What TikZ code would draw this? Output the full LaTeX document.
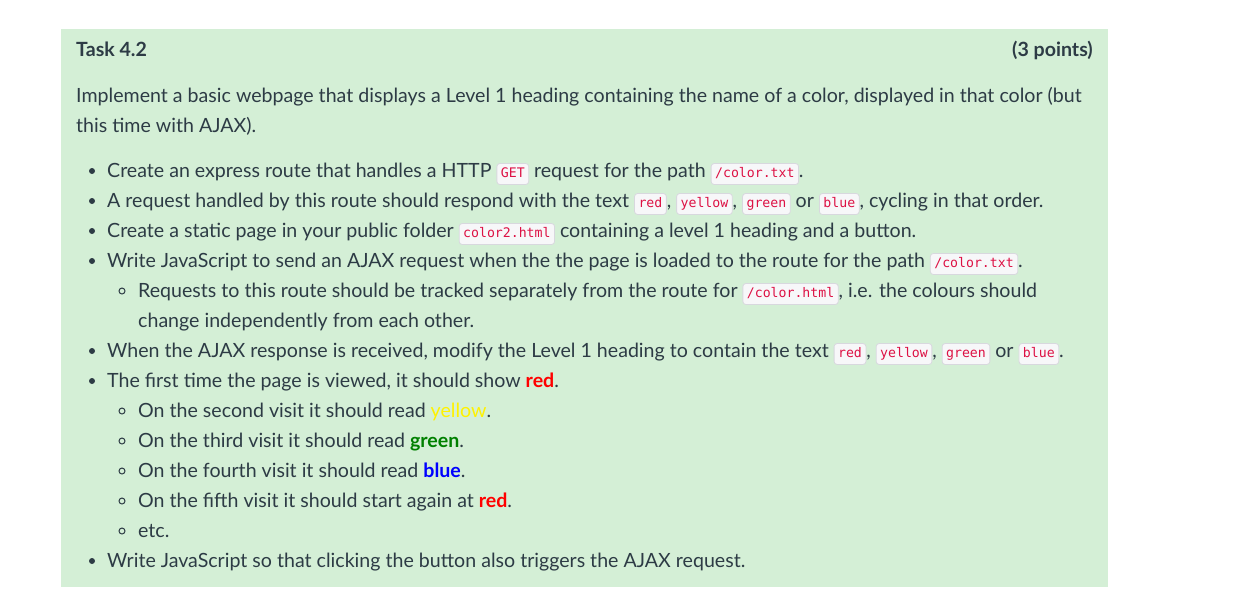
\documentclass[tikz,border=0pt]{standalone}
\usepackage{fontspec}
\setmainfont{Lato}
\setmonofont{DejaVu Sans Mono}
\definecolor{boxgreen}{HTML}{D4EFD6}
\definecolor{bodytext}{HTML}{2D3B45}
\definecolor{chipfill}{HTML}{F7F7F9}
\definecolor{chipline}{HTML}{D8D8DE}
\definecolor{chipred}{HTML}{DD1144}
\definecolor{webgreen}{HTML}{008000}
\tikzset{
  line/.style={anchor=base west,inner sep=0pt,text=bodytext,font=\fontsize{19.6}{23}\selectfont},
  chip/.style={draw=chipline,fill=chipfill,rounded corners=3pt,inner xsep=4pt,inner ysep=3pt,
    text=chipred,font=\ttfamily\fontsize{13.2}{15}\selectfont,line width=0.8pt},
  dot/.style={circle,fill=bodytext,inner sep=0pt,minimum size=6pt},
  ring/.style={circle,draw=bodytext,line width=1pt,inner sep=0pt,minimum size=6pt},
}
\newcommand{\code}[1]{\tikz[baseline=(c.base)]\node(c)[chip]{\strut #1};}
\begin{document}
\begin{tikzpicture}[x=1pt,y=-1pt]
  \useasboundingbox[fill=white] (0,0) rectangle (1235,598);
  \fill[boxgreen] (61,29) rectangle (1108,587);

  % heading
  \node[line] (task) at (76,56) {\bfseries Task 4.2};
  \node[line,anchor=base east] (points) at (1093,56) {\bfseries (3 points)};

  % intro
  \node[line] (intro1) at (76,102) {Implement a basic webpage that displays a Level 1 heading containing the name of a color, displayed in that color (but};
  \node[line] (intro2) at (76,132) {this time with AJAX).};

  % bullets
  \foreach \y in {171,201,231,261,351,381,561}
    \node[dot] at (92,\y) {};
  \foreach \y in {291,411,441,471,501,531}
    \node[ring] at (122,\y) {};

  \node[line] (b1) at (107,177) {Create an express route that handles a HTTP \code{GET} request for the path \code{/color.txt}.};
  \node[line] (b2) at (107,207) {A request handled by this route should respond with the text \code{red}, \code{yellow}, \code{green} or \code{blue}, cycling in that order.};
  \node[line] (b3) at (107,237) {Create a static page in your public folder \code{color2.html} containing a level 1 heading and a button.};
  \node[line] (b4) at (107,267) {Write JavaScript to send an AJAX request when the the page is loaded to the route for the path \code{/color.txt}.};
  \node[line] (s1) at (138,297) {Requests to this route should be tracked separately from the route for \code{/color.html}, i.e. the colours should};
  \node[line] (s1b) at (138,327) {change independently from each other.};
  \node[line] (b5) at (107,357) {When the AJAX response is received, modify the Level 1 heading to contain the text \code{red}, \code{yellow}, \code{green} or \code{blue}.};
  \node[line] (b6) at (107,387) {The first time the page is viewed, it should show \textbf{\color{red}red}.};
  \node[line] (s2) at (138,417) {On the second visit it should read {\color{yellow}yellow}.};
  \node[line] (s3) at (138,447) {On the third visit it should read \textbf{\color{webgreen}green}.};
  \node[line] (s4) at (138,477) {On the fourth visit it should read \textbf{\color{blue}blue}.};
  \node[line] (s5) at (138,507) {On the fifth visit it should start again at \textbf{\color{red}red}.};
  \node[line] (s6) at (138,537) {etc.};
  \node[line] (b7) at (107,567) {Write JavaScript so that clicking the button also triggers the AJAX request.};
\end{tikzpicture}
\end{document}
